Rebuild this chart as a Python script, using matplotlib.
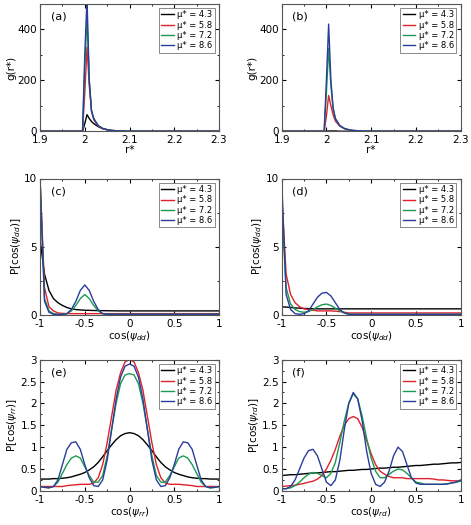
import numpy as np
import matplotlib
matplotlib.use('Agg')
import matplotlib.pyplot as plt
from matplotlib.ticker import MultipleLocator, FuncFormatter

mu_labels = ['μ* = 4.3', 'μ* = 5.8', 'μ* = 7.2', 'μ* = 8.6']
colors = ['black', '#e0212c', '#1a9a50', '#2a3d9a']

# g(r*) panels
r = [1.9, 1.995, 2.0, 2.005, 2.01, 2.015, 2.02, 2.03, 2.04, 2.05, 2.06, 2.08, 2.1, 2.3]
g_a = [
    [0, 0, 30, 65, 50, 38, 30, 18, 10, 6, 3, 1, 0, 0],
    [0, 0, 150, 330, 180, 80, 45, 20, 10, 6, 3, 1, 0, 0],
    [0, 0, 250, 450, 200, 80, 50, 22, 11, 6, 3, 1, 0, 0],
    [0, 0, 300, 520, 200, 80, 50, 22, 11, 6, 3, 1, 0, 0],
]
g_b = [
    [0, 0, 0, 1, 1, 1, 1, 0, 0, 0, 0, 0, 0, 0],
    [0, 0, 60, 140, 100, 65, 40, 20, 10, 5, 3, 1, 0, 0],
    [0, 0, 150, 325, 180, 90, 50, 22, 11, 6, 3, 1, 0, 0],
    [0, 0, 200, 420, 200, 90, 50, 22, 11, 6, 3, 1, 0, 0],
]

# cos(psi) grid: -1 .. 1 in steps of 0.05
c = np.linspace(-1, 1, 41)
p_c = [
    [5.5, 3.0, 1.8, 1.2, 0.9, 0.7, 0.55, 0.45, 0.4, 0.37, 0.35, 0.34, 0.33, 0.32, 0.32, 0.31, 0.31, 0.3, 0.3, 0.3, 0.3,
     0.3, 0.3, 0.3, 0.3, 0.3, 0.3, 0.3, 0.3, 0.3, 0.3, 0.3, 0.3, 0.3, 0.3, 0.3, 0.3, 0.3, 0.3, 0.3, 0.3],
    [10, 2.0, 0.6, 0.3, 0.15, 0.12, 0.1, 0.1, 0.1, 0.1, 0.1, 0.1, 0.1, 0.1, 0.1, 0.1, 0.1, 0.1, 0.1, 0.1, 0.1,
     0.1, 0.1, 0.1, 0.1, 0.1, 0.1, 0.1, 0.1, 0.1, 0.1, 0.1, 0.1, 0.1, 0.1, 0.1, 0.1, 0.1, 0.1, 0.1, 0.1],
    [10, 1.2, 0.3, 0.1, 0.05, 0.05, 0.1, 0.3, 0.7, 1.2, 1.5, 1.2, 0.7, 0.3, 0.1, 0.05, 0.05, 0.05, 0.05, 0.05, 0.05,
     0.05, 0.05, 0.05, 0.05, 0.05, 0.05, 0.05, 0.05, 0.05, 0.05, 0.05, 0.05, 0.05, 0.05, 0.05, 0.05, 0.05, 0.05, 0.05, 0.05],
    [10, 1.0, 0.2, 0.05, 0.03, 0.05, 0.1, 0.4, 1.0, 1.8, 2.2, 1.8, 1.0, 0.4, 0.1, 0.05, 0.05, 0.05, 0.05, 0.05, 0.05,
     0.05, 0.05, 0.05, 0.05, 0.05, 0.05, 0.05, 0.05, 0.05, 0.05, 0.05, 0.05, 0.05, 0.05, 0.05, 0.05, 0.05, 0.05, 0.05, 0.05],
]
p_d = [
    [0.6, 0.58, 0.55, 0.52, 0.5, 0.48, 0.47, 0.46, 0.45, 0.45, 0.45, 0.45, 0.45, 0.45, 0.45, 0.45, 0.45, 0.45, 0.45, 0.45, 0.45,
     0.45, 0.45, 0.45, 0.45, 0.45, 0.45, 0.45, 0.45, 0.45, 0.45, 0.45, 0.45, 0.45, 0.45, 0.45, 0.45, 0.45, 0.45, 0.45, 0.45],
    [8.8, 3.0, 1.5, 0.9, 0.6, 0.45, 0.4, 0.35, 0.3, 0.3, 0.3, 0.3, 0.28, 0.25, 0.2, 0.15, 0.15, 0.15, 0.15, 0.15, 0.15,
     0.15, 0.15, 0.15, 0.15, 0.15, 0.15, 0.15, 0.15, 0.15, 0.15, 0.15, 0.15, 0.15, 0.15, 0.15, 0.15, 0.15, 0.15, 0.15, 0.15],
    [8.0, 2.0, 0.8, 0.4, 0.25, 0.2, 0.25, 0.4, 0.6, 0.75, 0.8, 0.7, 0.5, 0.3, 0.15, 0.08, 0.05, 0.05, 0.05, 0.05, 0.05,
     0.05, 0.05, 0.05, 0.05, 0.05, 0.05, 0.05, 0.05, 0.05, 0.05, 0.05, 0.05, 0.05, 0.05, 0.05, 0.05, 0.05, 0.05, 0.05, 0.05],
    [10, 1.5, 0.4, 0.1, 0.05, 0.1, 0.3, 0.8, 1.3, 1.6, 1.65, 1.4, 0.9, 0.4, 0.15, 0.05, 0.05, 0.05, 0.05, 0.05, 0.05,
     0.05, 0.05, 0.05, 0.05, 0.05, 0.05, 0.05, 0.05, 0.05, 0.05, 0.05, 0.05, 0.05, 0.05, 0.05, 0.05, 0.05, 0.05, 0.05, 0.05],
]
p_e = [
    [0.27, 0.27, 0.27, 0.28, 0.28, 0.29, 0.3, 0.32, 0.35, 0.38, 0.42, 0.48, 0.55, 0.65, 0.78, 0.92, 1.05, 1.17, 1.26, 1.31, 1.33,
     1.31, 1.26, 1.17, 1.05, 0.92, 0.78, 0.65, 0.55, 0.48, 0.42, 0.38, 0.35, 0.32, 0.3, 0.29, 0.28, 0.28, 0.27, 0.27, 0.27],
    [0.1, 0.1, 0.1, 0.1, 0.1, 0.1, 0.12, 0.13, 0.14, 0.15, 0.15, 0.15, 0.18, 0.3, 0.6, 1.1, 1.7, 2.3, 2.7, 2.95, 3.0,
     2.95, 2.7, 2.3, 1.7, 1.1, 0.6, 0.3, 0.18, 0.15, 0.15, 0.15, 0.14, 0.13, 0.12, 0.1, 0.1, 0.1, 0.1, 0.1, 0.1],
    [0.1, 0.08, 0.07, 0.1, 0.2, 0.4, 0.6, 0.75, 0.8, 0.75, 0.55, 0.35, 0.2, 0.2, 0.35, 0.8, 1.4, 2.0, 2.45, 2.65, 2.68,
     2.65, 2.45, 2.0, 1.4, 0.8, 0.35, 0.2, 0.2, 0.35, 0.55, 0.75, 0.8, 0.75, 0.6, 0.4, 0.2, 0.1, 0.07, 0.08, 0.1],
    [0.1, 0.08, 0.07, 0.1, 0.25, 0.6, 0.95, 1.1, 1.12, 0.95, 0.6, 0.3, 0.12, 0.1, 0.25, 0.7, 1.4, 2.1, 2.6, 2.85, 2.9,
     2.85, 2.6, 2.1, 1.4, 0.7, 0.25, 0.1, 0.12, 0.3, 0.6, 0.95, 1.12, 1.1, 0.95, 0.6, 0.25, 0.1, 0.07, 0.08, 0.1],
]
p_f = [
    [0.35, 0.36, 0.37, 0.37, 0.38, 0.39, 0.4, 0.41, 0.41, 0.42, 0.43, 0.44, 0.44, 0.45, 0.46, 0.47, 0.47, 0.48, 0.49, 0.49, 0.5,
     0.51, 0.52, 0.52, 0.53, 0.54, 0.54, 0.55, 0.56, 0.57, 0.58, 0.58, 0.59, 0.6, 0.61, 0.61, 0.62, 0.63, 0.64, 0.64, 0.65],
    [0.1, 0.11, 0.12, 0.13, 0.15, 0.17, 0.2, 0.22, 0.27, 0.35, 0.5, 0.7, 0.95, 1.25, 1.5, 1.65, 1.7, 1.65, 1.45, 1.15, 0.85,
     0.6, 0.45, 0.38, 0.33, 0.3, 0.3, 0.3, 0.28, 0.28, 0.28, 0.28, 0.28, 0.28, 0.27, 0.25, 0.25, 0.24, 0.23, 0.23, 0.22],
    [0.05, 0.05, 0.07, 0.12, 0.2, 0.3, 0.38, 0.42, 0.4, 0.35, 0.3, 0.4, 0.65, 1.1, 1.6, 2.0, 2.22, 2.1, 1.7, 1.2, 0.75,
     0.45, 0.3, 0.3, 0.38, 0.45, 0.5, 0.48, 0.4, 0.3, 0.2, 0.18, 0.15, 0.15, 0.15, 0.15, 0.15, 0.16, 0.18, 0.2, 0.22],
    [0.05, 0.05, 0.1, 0.25, 0.5, 0.75, 0.92, 0.95, 0.8, 0.5, 0.2, 0.12, 0.25, 0.7, 1.4, 2.0, 2.25, 2.1, 1.6, 0.9, 0.4,
     0.15, 0.1, 0.2, 0.45, 0.8, 1.0, 0.9, 0.6, 0.3, 0.18, 0.15, 0.15, 0.15, 0.15, 0.15, 0.15, 0.16, 0.18, 0.2, 0.25],
]

plt.rcParams['font.family'] = 'DejaVu Sans'
plt.rcParams['font.size'] = 7.5

fig = plt.figure(figsize=(4.71, 5.25), dpi=100)
lefts = [0.085, 0.598]
rows = [(0.75, 0.243), (0.4, 0.26), (0.065, 0.25)]

panels = [
    ('(a)', r, g_a, 'r*', 'g(r*)'),
    ('(b)', r, g_b, 'r*', 'g(r*)'),
    ('(c)', c, p_c, r'cos($\psi_{dd}$)', r'P[cos($\psi_{dd}$)]'),
    ('(d)', c, p_d, r'cos($\psi_{dd}$)', r'P[cos($\psi_{dd}$)]'),
    ('(e)', c, p_e, r'cos($\psi_{rr}$)', r'P[cos($\psi_{rr}$)]'),
    ('(f)', c, p_f, r'cos($\psi_{rd}$)', r'P[cos($\psi_{rd}$)]'),
]

fmt = FuncFormatter(lambda v, p: f'{v:g}')

for i, (tag, xs, ys, xl, yl) in enumerate(panels):
    row, col = divmod(i, 2)
    b, h = rows[row]
    ax = fig.add_axes([lefts[col], b, 0.38, h])
    for y, colr, lab in zip(ys, colors, mu_labels):
        ax.plot(xs, y, color=colr, lw=1.0, label=lab)
    if row == 0:
        ax.set_xlim(1.9, 2.3)
        ax.set_ylim(0, 500)
        ax.xaxis.set_major_locator(MultipleLocator(0.1))
        ax.xaxis.set_minor_locator(MultipleLocator(0.05))
        ax.yaxis.set_major_locator(MultipleLocator(200))
        ax.yaxis.set_minor_locator(MultipleLocator(100))
    else:
        ax.set_xlim(-1, 1)
        ax.xaxis.set_major_locator(MultipleLocator(0.5))
        ax.xaxis.set_minor_locator(MultipleLocator(0.25))
        if row == 1:
            ax.set_ylim(0, 10)
            ax.yaxis.set_major_locator(MultipleLocator(5))
            ax.yaxis.set_minor_locator(MultipleLocator(2.5))
        else:
            ax.set_ylim(0, 3)
            ax.yaxis.set_major_locator(MultipleLocator(0.5))
            ax.yaxis.set_minor_locator(MultipleLocator(0.25))
    ax.xaxis.set_major_formatter(fmt)
    ax.yaxis.set_major_formatter(fmt)
    ax.tick_params(which='both', direction='in', top=True, right=True, labelsize=7.5)
    ax.tick_params(axis='x', pad=3)
    ax.tick_params(axis='y', pad=2)
    ax.tick_params(which='major', length=3)
    ax.tick_params(which='minor', length=1.5)
    for s in ax.spines.values():
        s.set_color('#555555')
        s.set_linewidth(0.8)
    ax.set_xlabel(xl, fontsize=7.5, labelpad=0)
    ax.set_ylabel(yl, fontsize=7.5, labelpad=1)
    ax.text(0.06, 0.94, tag, transform=ax.transAxes, fontsize=8, va='top')
    ax.legend(loc='upper right', fontsize=6, frameon=True, fancybox=False,
              edgecolor='#555555', handlelength=1.5, borderpad=0.3,
              labelspacing=0.15, handletextpad=0.4).get_frame().set_linewidth(0.6)

fig.savefig('out.png', dpi=100)
